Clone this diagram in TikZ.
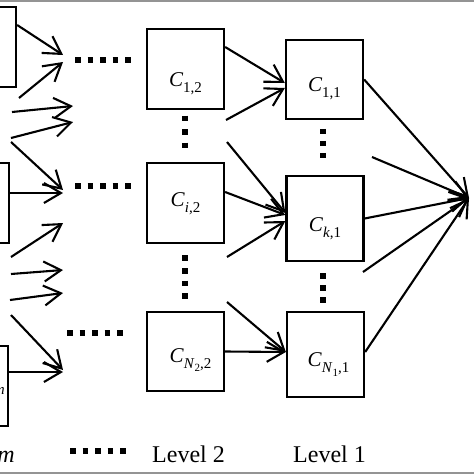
\documentclass[tikz,border=0pt]{standalone}
\usepackage{fontspec}
\setmainfont{Liberation Serif}
\usetikzlibrary{arrows.meta}
\newcommand{\subtxt}[1]{\raisebox{-0.28em}{\fontsize{15}{17}\selectfont #1}}
\newcommand{\subsubtxt}[1]{\raisebox{-0.25em}{\fontsize{11}{13}\selectfont #1}}
\begin{document}
\begin{tikzpicture}[x=1pt,y=-1pt,
  box/.style={draw, line width=2.3pt, minimum width=77pt, minimum height=80pt, inner sep=0pt},
  lbl/.style={font=\fontsize{21}{25}\selectfont, inner sep=0pt},
  arr/.style={line width=2.1pt, -{Straight Barb[length=17pt,width=20pt]}},
  dotrow/.style={line width=5.5pt, dash pattern=on 5.5pt off 7pt},
  lev/.style={font=\fontsize{24}{28}\selectfont, inner sep=0pt}]
\useasboundingbox (0,0) rectangle (474,474);
\clip (0,0) rectangle (474,474);
\fill[black!42] (0,0) rectangle (474,2.2);
\fill[black!42] (0,471.7) rectangle (474,474);

% level m (cut off on the left)
\node[box] (m1) at (-22.5,47) {};
\node[box] (m2) at (-29.5,203) {};
\node[box] (m3) at (-30.5,386) {};
\node[lbl, anchor=east] (lm) at (5,386) {\textit{C}\subtxt{\textit{N}\subsubtxt{\textit{m}},\textit{m}}};

% level 2
\node[box, label={[lbl,yshift=-15pt]center:\textit{C}\subtxt{1,2}}] (c12) at (185.5,69) {};
\node[box, label={[lbl,yshift=-1pt]center:\textit{C}\subtxt{\textit{i},2}}] (ci2) at (185.5,203) {};
\node[box, minimum height=79pt, label={[lbl,yshift=-8.5pt,xshift=5pt]center:\textit{C}\subtxt{\textit{N}\subsubtxt{2},2}}] (cn22) at (185.5,351.5) {};

% level 1
\node[box, minimum height=79pt, label={[lbl,yshift=-9pt]center:\textit{C}\subtxt{1,1}}] (c11) at (324.5,79.5) {};
\node[box, minimum height=85pt, label={[lbl,yshift=-10pt]center:\textit{C}\subtxt{\textit{k},1}}] (ck1) at (325,218.5) {};
\node[box, minimum height=85pt, label={[lbl,yshift=-10pt,xshift=3pt]center:\textit{C}\subtxt{\textit{N}\subsubtxt{1},1}}] (cn11) at (325.5,354.5) {};

% output point
\coordinate (out) at (469,198);

% dotted rows
\draw[dotrow] (75,60) -- (131,60);
\draw[dotrow] (75,186) -- (131,186);
\draw[dotrow] (67,333) -- (123,333);
\draw[dotrow] (70,451) -- (126,451);
\draw[line width=5.5pt, dash pattern=on 5.5pt off 8pt] (185,115.5) -- (185,148);
\draw[line width=5.5pt, dash pattern=on 5.5pt off 7.2pt] (185,255.3) -- (185,299.3);
\draw[line width=5.5pt, dash pattern=on 5.5pt off 6.5pt] (323,128.75) -- (323,158.25);
\draw[line width=5.5pt, dash pattern=on 5.5pt off 6.5pt] (323,273.25) -- (323,302.75);

% legend
\node[lev, anchor=base east] (levm) at (15,462) {Level \textit{m}};
\node[lev, anchor=base west] (lev2) at (152,462) {Level 2};
\node[lev, anchor=base west] (lev1) at (293,462) {Level 1};

% arrows from level m
\coordinate (t1) at (63,55);
\coordinate (s2) at (19,98);   \coordinate (t2) at (63,62);
\coordinate (s3) at (12,112);  \coordinate (t3) at (73,106);
\coordinate (s4) at (11,138);  \coordinate (t4) at (73,122);
\coordinate (s5) at (11,142);  \coordinate (t5) at (63,190);
\coordinate (t6) at (63,193);
\coordinate (s7) at (11,257);  \coordinate (t7) at (63,223);
\coordinate (s8) at (11,274);  \coordinate (t8) at (63,270);
\coordinate (s9) at (10,300);  \coordinate (t9) at (63,293);
\coordinate (s10) at (11,315); \coordinate (t10) at (63,370);
\coordinate (t11) at (63,372);
\draw[arr] ([yshift=22pt]m1.east) -- (t1);
\draw[arr] (s2) -- (t2);
\draw[arr] (s3) -- (t3);
\draw[arr] (s4) -- (t4);
\draw[arr] (s5) -- (t5);
\draw[arr] ([yshift=10pt]m2.east) -- (t6);
\draw[arr] (s7) -- (t7);
\draw[arr] (s8) -- (t8);
\draw[arr] (s9) -- (t9);
\draw[arr] (s10) -- (t10);
\draw[arr] ([yshift=14pt]m3.east) -- (t11);

% arrows level 2 -> level 1
\coordinate (a2) at (226,120);
\coordinate (a3) at (227,142);
\coordinate (a5) at (227,257);
\coordinate (a6) at (227,302);
\draw[arr] ([yshift=22pt]c12.east) -- ([yshift=-3.5pt]c11.west);
\draw[arr] (a2) -- ([yshift=-8.5pt]c11.west);
\draw[arr] (a3) -- ([yshift=5.5pt]ck1.west);
\draw[arr] ([yshift=11pt]ci2.east) -- ([yshift=3.5pt]ck1.west);
\draw[arr] (a5) -- ([yshift=-2.5pt]ck1.west);
\draw[arr] (a6) -- ([yshift=2.5pt]cn11.west);
\draw[arr] (cn22.east) -- ([yshift=2.5pt]cn11.west);

% arrows level 1 -> output
\coordinate (b2) at (372,157);
\coordinate (b4) at (363,272);
\draw[arr] (c11.east) -- (out);
\draw[arr] (b2) -- (out);
\draw[arr] (ck1.east) -- (out);
\draw[arr] (b4) -- (out);
\draw[arr] ([yshift=2.5pt]cn11.east) -- (out);
\end{tikzpicture}
\end{document}
